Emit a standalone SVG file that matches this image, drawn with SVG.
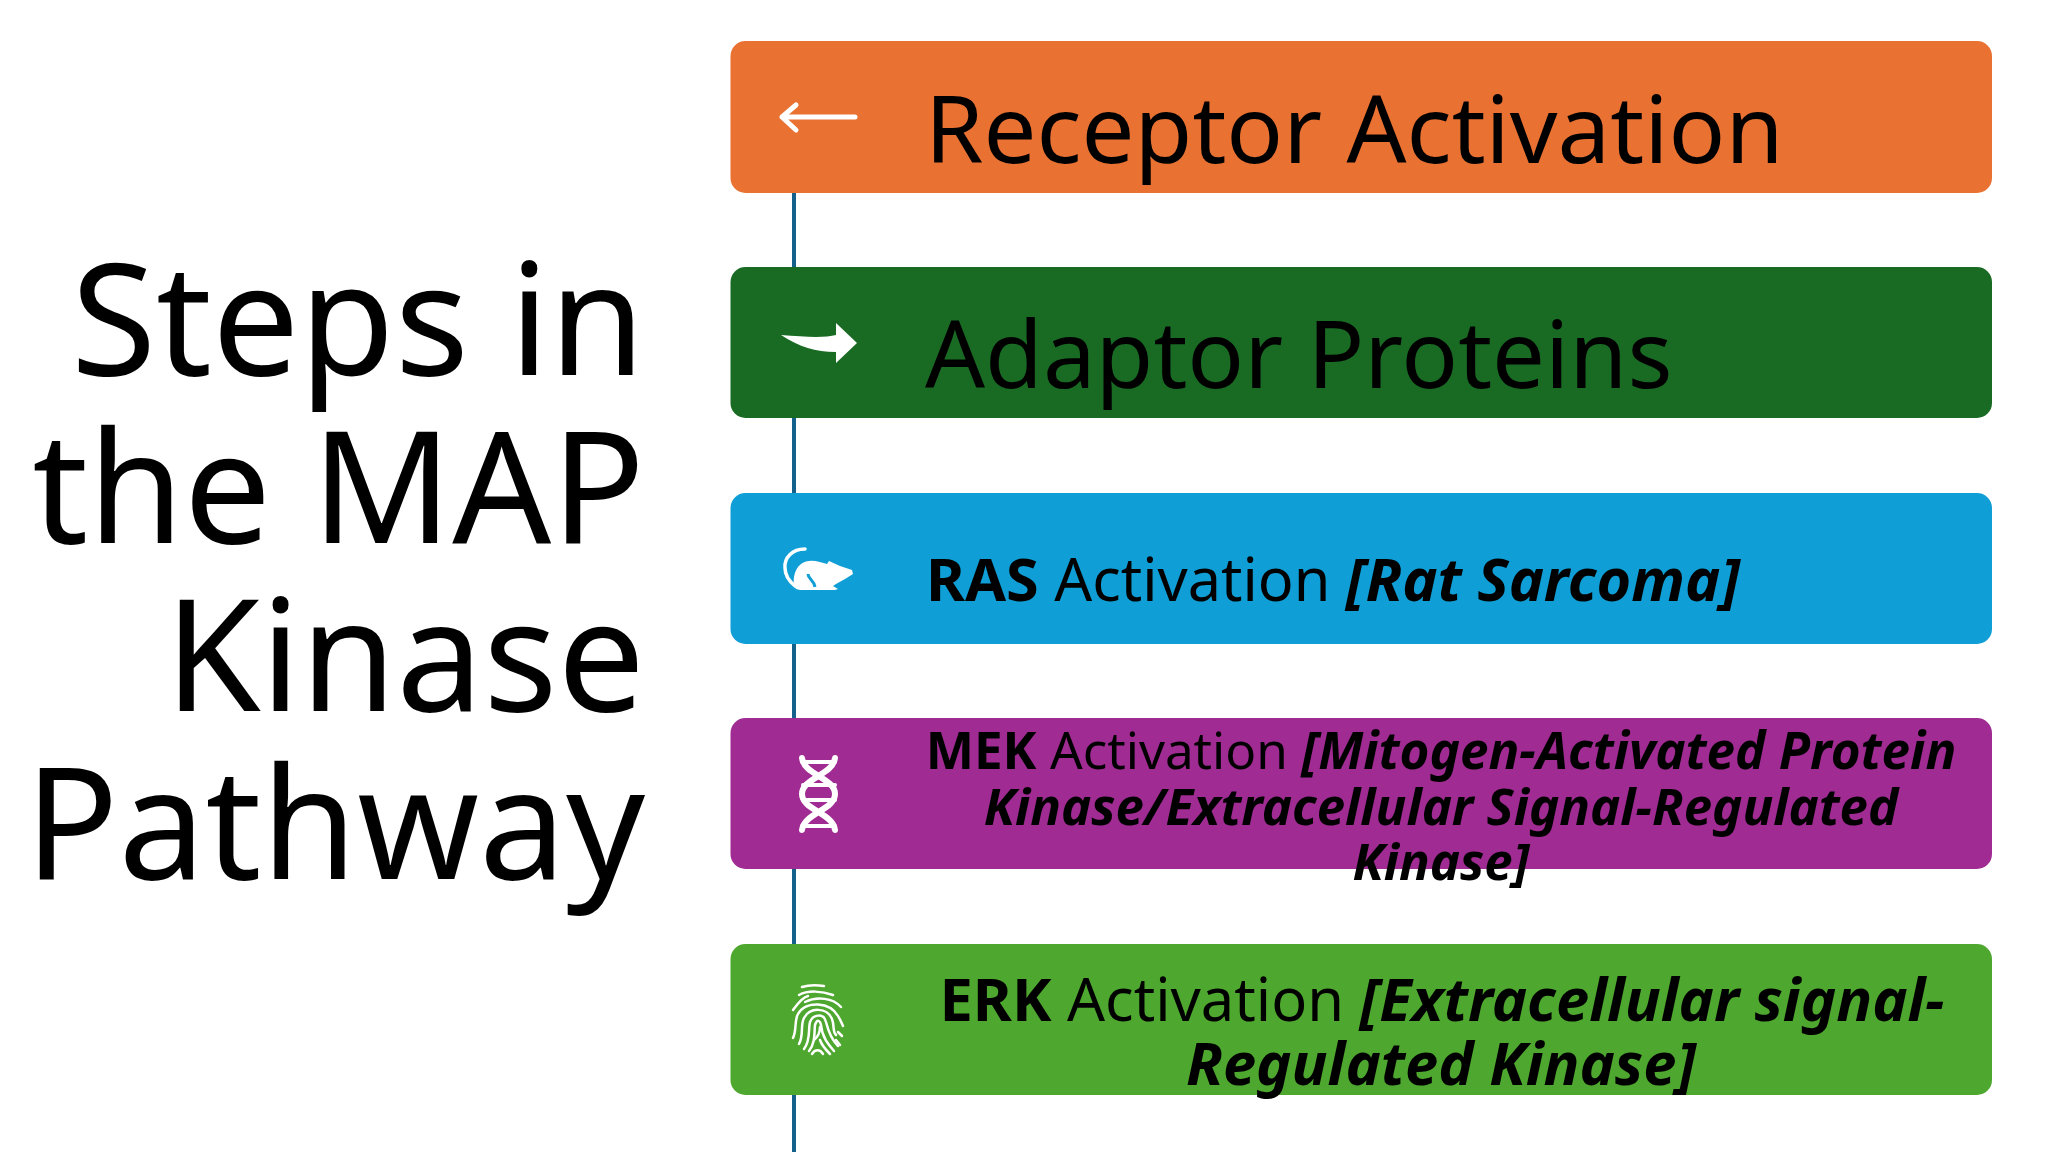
<svg xmlns="http://www.w3.org/2000/svg" width="2048" height="1152" viewBox="0 0 2048 1152">
<style>
text{font-family:"Noto Sans","Open Sans",sans-serif;fill:#000}
.title{font-size:155px;text-anchor:end}
.big{font-size:94px}
.b{font-weight:700}
.bi{font-weight:700;font-style:italic}
.ic{fill:none;stroke:#fff;stroke-linecap:round;stroke-linejoin:round}
.w{fill:#fff}
</style>
<rect width="2048" height="1152" fill="#fff"/>
<g id="connectors"><line x1="794" y1="180" x2="794" y2="1152" stroke="#14628c" stroke-width="4"/></g>
<g id="title">
<text class="title" x="645" y="375">Steps in</text>
<text class="title" x="645" y="543">the MAP</text>
<text class="title" x="645" y="711">Kinase</text>
<text class="title" x="645" y="879">Pathway</text>
</g>
<g id="node-receptor">
<rect x="730.500" y="41" width="1261.500" height="152" rx="15" fill="#e97132"/>
<path class="ic" stroke-width="5" d="M855 117H782M796 105L782 117L796 130"/>
<text class="big" x="925" y="163">Receptor Activation</text>
</g>
<g id="node-adaptor">
<rect x="730.500" y="267" width="1261.500" height="151" rx="15" fill="#196b24"/>
<path class="w" d="M781 335C805 337 825 338 836 335V323L857 343L836 363V352C815 352 800 347 781 335Z"/>
<text class="big" x="925" y="388">Adaptor Proteins</text>
</g>
<g id="node-ras">
<rect x="730.500" y="493" width="1261.500" height="151" rx="15" fill="#0f9ed5"/>
<path class="ic" stroke-width="3.500" d="M805 549C792 549 784 558 785 568C785 575 789 581 795 586"/>
<path class="w" d="M796 589C792 584 793 570 801 564C809 558 820 562 827 564L829 561L840 566L852 570L853 574L845 579L836 584L833 586L838 589L835 590L800 590Z"/>
<path d="M808 574C808 579 814 580 815 587" fill="none" stroke="#0f9ed5" stroke-width="3"/>
<text x="926" y="601" font-size="59.4"><tspan class="b">RAS</tspan> Activation <tspan class="bi">[Rat Sarcoma]</tspan></text>
</g>
<g id="node-mek">
<rect x="730.500" y="718" width="1261.500" height="151" rx="15" fill="#a02b93"/>
<path class="ic" stroke-width="6" d="M802 758C804 775 835 778 835 794C835 810 804 813 802 830M835 758C833 775 802 778 802 794C802 810 833 813 835 830"/>
<path class="ic" stroke-width="4" d="M802 762H835M803 785H835M803 800H835M802 826H835"/>
<text text-anchor="middle" font-size="51.200" x="1441" y="769"><tspan class="b">MEK</tspan> Activation <tspan class="bi">[Mitogen-Activated Protein</tspan></text>
<text class="bi" text-anchor="middle" font-size="51" x="1441" y="825">Kinase/Extracellular Signal-Regulated</text>
<text class="bi" text-anchor="middle" font-size="51" x="1441" y="880">Kinase]</text>
</g>
<g id="node-erk">
<rect x="730.500" y="944" width="1261.500" height="151" rx="15" fill="#4ea72e"/>
<g class="ic" stroke-width="2.500">
<path d="M802 987C808 985 818 985 824 986"/>
<path d="M799 995C808 990 822 991 833 995"/>
<path d="M793 1010C798 1003 803 997 808 996M805 1002C817 996 833 998 841 1007"/>
<path d="M793 1038C797 1030 794 1021 798 1014C806 1000 830 1002 838 1016C841 1021 842 1024 843 1026"/>
<path d="M799 1044C804 1035 800 1026 804 1018C810 1007 827 1007 832 1019C835 1027 832 1031 836 1035"/>
<path d="M804 1049C811 1040 808 1029 810 1022C813 1014 824 1013 826 1022C829 1034 832 1040 838 1046"/>
<path d="M809 1051C816 1042 814 1032 815 1025C817 1019 820 1020 821 1025C822 1037 828 1044 834 1051"/>
<path d="M814 1040C820 1035 820 1030 820 1027M820 1040C822 1046 826 1050 830 1054"/>
<path d="M838 1032L842 1036M836 1040L840 1045"/>
<path d="M812 1054C815 1049 820 1049 823 1054"/>
</g>
<text text-anchor="middle" font-size="59.6" x="1442" y="1021"><tspan class="b">ERK</tspan> Activation <tspan class="bi">[Extracellular signal-</tspan></text>
<text class="bi" text-anchor="middle" font-size="59.6" x="1441" y="1085">Regulated Kinase]</text>
</g>
</svg>
